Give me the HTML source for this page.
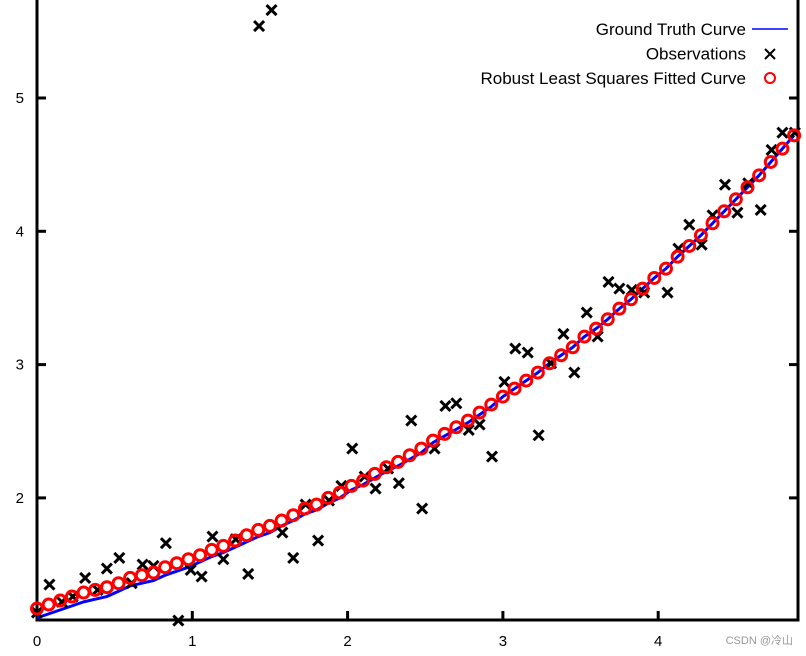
<!DOCTYPE html>
<html><head><meta charset="utf-8"><style>
html,body{margin:0;padding:0;background:#fff;}
svg{display:block;font-family:"Liberation Sans","Noto Sans CJK SC",sans-serif;}
</style></head><body>
<svg id="chart" width="806" height="656" viewBox="0 0 806 656"></svg>
<script>
const fitX = [0,0.075,0.15,0.225,0.3,0.375,0.45,0.525,0.6,0.675,0.75,0.825,0.9,0.975,1.05,1.125,1.2,1.275,1.35,1.425,1.5,1.575,1.65,1.725,1.8,1.875,1.95,2.025,2.1,2.175,2.25,2.325,2.4,2.475,2.55,2.625,2.7,2.775,2.85,2.925,3.0,3.075,3.15,3.225,3.3,3.375,3.45,3.525,3.6,3.675,3.75,3.825,3.9,3.975,4.05,4.125,4.2,4.275,4.35,4.425,4.5,4.575,4.65,4.725,4.8,4.875];
const fitY = [1.17,1.20,1.23,1.26,1.29,1.31,1.33,1.36,1.40,1.42,1.44,1.48,1.51,1.54,1.57,1.61,1.64,1.68,1.72,1.76,1.79,1.83,1.87,1.92,1.95,2.00,2.04,2.09,2.13,2.18,2.23,2.27,2.32,2.37,2.43,2.48,2.53,2.58,2.64,2.70,2.76,2.82,2.88,2.94,3.01,3.07,3.13,3.21,3.27,3.34,3.42,3.49,3.57,3.65,3.72,3.81,3.89,3.97,4.06,4.15,4.24,4.33,4.42,4.52,4.62,4.72];
const truthY = [1.10,1.13,1.16,1.19,1.22,1.24,1.26,1.30,1.34,1.36,1.38,1.42,1.45,1.48,1.52,1.56,1.59,1.63,1.67,1.71,1.74,1.79,1.83,1.88,1.91,1.96,2.00,2.06,2.10,2.15,2.20,2.24,2.29,2.34,2.415,2.465,2.515,2.565,2.625,2.685,2.76,2.82,2.88,2.94,3.01,3.07,3.13,3.21,3.27,3.34,3.42,3.49,3.57,3.65,3.72,3.81,3.89,3.97,4.06,4.15,4.24,4.33,4.42,4.52,4.62,4.72];
const obsX = [0,0.08,0.16,0.23,0.31,0.39,0.45,0.53,0.61,0.68,0.75,0.83,0.91,0.99,1.06,1.13,1.20,1.28,1.36,1.43,1.51,1.58,1.65,1.73,1.81,1.88,1.96,2.03,2.11,2.18,2.26,2.33,2.41,2.48,2.56,2.63,2.70,2.78,2.85,2.93,3.01,3.08,3.16,3.23,3.31,3.39,3.46,3.54,3.61,3.68,3.75,3.83,3.91,4.06,4.13,4.20,4.28,4.35,4.43,4.51,4.58,4.66,4.73,4.80,4.88];
const obsY = [1.14,1.35,1.22,1.26,1.40,1.31,1.47,1.55,1.36,1.50,1.49,1.66,1.08,1.46,1.41,1.71,1.54,1.69,1.43,5.54,5.66,1.74,1.55,1.95,1.68,1.98,2.09,2.37,2.16,2.07,2.22,2.11,2.58,1.92,2.37,2.69,2.71,2.51,2.55,2.31,2.87,3.12,3.09,2.47,3.01,3.23,2.94,3.39,3.21,3.62,3.57,3.56,3.54,3.54,3.87,4.05,3.90,4.12,4.35,4.14,4.36,4.16,4.61,4.74,4.74];
const xTicks = [0,1,2,3,4];
const yTicks = [2,3,4,5];

const NS='http://www.w3.org/2000/svg';
const svg=document.getElementById('chart');
const X0=37,X1=798,Ybot=620;
const sx=v=>37+v*155.3;
const sy=v=>98+(5-v)*133.3;
function mk(tag,attrs,parent){const e=document.createElementNS(NS,tag);for(const k in attrs)e.setAttribute(k,attrs[k]);(parent||svg).appendChild(e);return e;}

let a=mk('path',{d:`M${X0},0 V${Ybot} H${X1} V0`,fill:'none',stroke:'#000','stroke-width':3});


xTicks.forEach(t=>{
  const x=sx(t);
  if(t>0){const tk=mk('line',{x1:x,x2:x,y1:Ybot,y2:Ybot-9,stroke:'#000','stroke-width':3});
  
  }
  const l=mk('text',{x:x,y:646,'text-anchor':'middle','font-size':15,fill:'#000'});l.textContent=t;
  
  
});
yTicks.forEach(t=>{
  const y=sy(t);
  const tk=mk('line',{x1:X0,x2:X0+9,y1:y,y2:y,stroke:'#000','stroke-width':3});
  
  
  const tk2=mk('line',{x1:X1,x2:X1-9,y1:y,y2:y,stroke:'#000','stroke-width':3});
  
  
  const l=mk('text',{x:24,y:y+5,'text-anchor':'end','font-size':15,fill:'#000'});l.textContent=t;
  
  
});

const tl=mk('polyline',{points:fitX.map((x,i)=>sx(x)+','+sy(truthY[i])).join(' '),fill:'none',stroke:'#0000ff','stroke-width':3,'stroke-linejoin':'round'});



obsX.forEach((x,i)=>{
  const cx=sx(x),cy=sy(obsY[i]),r=5;
  const p=mk('path',{d:`M${cx-r},${cy-r}L${cx+r},${cy+r}M${cx-r},${cy+r}L${cx+r},${cy-r}`,stroke:'#000','stroke-width':3});
  
  
});

fitX.forEach((x,i)=>{
  const c=mk('circle',{cx:sx(x),cy:sy(fitY[i]),r:5.5,fill:'none',stroke:'#ff0000','stroke-width':3});
  
  
});

const g=mk('g',{});


const labels=['Ground Truth Curve','Observations','Robust Least Squares Fitted Curve'];
labels.forEach((t,i)=>{
  const y=29+i*24.5;
  const tx=mk('text',{x:746,y:y+6,'text-anchor':'end','font-size':17,fill:'#000'},g);tx.textContent=t;
  
  
});
let ln=mk('line',{x1:752,x2:788,y1:29,y2:29,stroke:'#0000ff','stroke-width':1.5},g);


let xm=mk('path',{d:'M765,49L775,59M765,59L775,49',stroke:'#000','stroke-width':2},g);


let cm=mk('circle',{cx:770,cy:78,r:5,fill:'none',stroke:'#ff0000','stroke-width':2},g);



const wm=mk('text',{x:793,y:644,'text-anchor':'end','font-size':11,fill:'#999'});
wm.textContent='CSDN @冷山';


</script>
</body></html>
